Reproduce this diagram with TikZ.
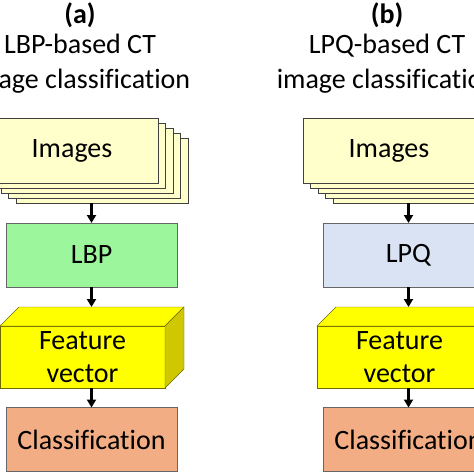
\documentclass[tikz,border=0pt]{standalone}
\usepackage{fontspec}
\setmainfont{Carlito}[Ligatures=CommonOff]
\usetikzlibrary{arrows.meta}
\definecolor{cardfill}{HTML}{FFFFCC}
\definecolor{lbpgreen}{HTML}{9CF79C}
\definecolor{lpqblue}{HTML}{DAE3F3}
\definecolor{featyellow}{HTML}{FFFF00}
\definecolor{featside}{HTML}{CFC800}
\definecolor{featline}{HTML}{6E6A00}
\definecolor{classfill}{HTML}{F2AD84}
\tikzset{
    card/.style={
        inner sep=0,
        outer sep=0,
        draw=black!75,
        fill=cardfill,
        minimum width=172pt,
        minimum height=65pt,
        font=\fontsize{28}{33}\selectfont,
    },
    stepbox/.style={
        inner sep=0,
        outer sep=0,
        draw=black!60,
        minimum width=171pt,
        minimum height=64pt,
        font=\fontsize{28}{33}\selectfont,
    },
    featbox/.style={
        inner sep=0,
        outer sep=0,
        draw=featline,
        fill=featyellow,
        minimum width=165pt,
        minimum height=62pt,
        align=center,
        font=\fontsize{28}{33}\selectfont,
    },
    heading/.style={
        align=center,
        font=\fontsize{28}{35}\selectfont,
    },
    arr/.style={
        -{Triangle[length=8pt,width=9pt]},
        line width=2.4pt,
    },
}

\begin{document}
\begin{tikzpicture}[x=1pt,y=1pt]
            \useasboundingbox (0,0) rectangle (474,-474);
            \clip (0,0) rectangle (474,-474);

            \node[heading] at (80, -15)  (labelA)  {\textbf{(a)}};
            \node[heading] at (80, -64)  (titleA)  {LBP-based CT\\image classification};
            \node[heading] at (387, -15) (labelB)  {\textbf{(b)}};
            \node[heading] at (387, -64) (titleB)  {LPQ-based CT\\image classification};

            % image stacks
            \node[card] at (102, -170.5) (imgsA4) {};
            \node[card] at (94.5, -165.5) (imgsA3) {};
            \node[card] at (87, -160.5)  (imgsA2) {};
            \node[card] at (79.5, -155.5) (imgsA1) {};
            \node[card] at (72, -150.5)  (imgsA)  {Images};

            \node[card] at (419, -170.5) (imgsB4) {};
            \node[card] at (411.5, -165.5) (imgsB3) {};
            \node[card] at (404, -160.5) (imgsB2) {};
            \node[card] at (396.5, -155.5) (imgsB1) {};
            \node[card] at (389, -150.5) (imgsB)  {Images};

            \node[stepbox, fill=lbpgreen] at (91.5, -255)  (lbpA) {LBP};
            \node[stepbox, fill=lpqblue]  at (408.5, -255) (lpqB) {LPQ};

            % feature vector blocks
            \node[featbox] at (82.5, -357)  (featA) {Feature\\vector};
            \node[featbox] at (399.5, -357) (featB) {Feature\\vector};
            \coordinate (featAback) at ([shift={(19,19)}]featA.north west);
            \coordinate (featBback) at ([shift={(19,19)}]featB.north west);
            \draw[featline, fill=featyellow] (featA.north west) -- (featAback)
                -- ([shift={(19,19)}]featA.north east) -- (featA.north east) -- cycle;
            \draw[featline, fill=featside] (featA.north east) -- ++(19,19)
                -- ([shift={(19,19)}]featA.south east) -- (featA.south east) -- cycle;
            \draw[featline, fill=featyellow] (featB.north west) -- (featBback)
                -- ([shift={(19,19)}]featB.north east) -- (featB.north east) -- cycle;
            \draw[featline, fill=featside] (featB.north east) -- ++(19,19)
                -- ([shift={(19,19)}]featB.south east) -- (featB.south east) -- cycle;

            \node[stepbox, fill=classfill] at (91.5, -439.5)  (classA) {Classification};
            \node[stepbox, fill=classfill] at (408.5, -439.5) (classB) {Classification};

            % connectors
            \draw[arr] (lbpA.north |- imgsA4.south) -- (lbpA.north);
            \draw[arr] (lbpA.south) -- (lbpA.south |- featAback);
            \draw[arr] (classA.north |- featA.south) -- (classA.north);
            \draw[arr] (lpqB.north |- imgsB4.south) -- (lpqB.north);
            \draw[arr] (lpqB.south) -- (lpqB.south |- featBback);
            \draw[arr] (classB.north |- featB.south) -- (classB.north);
        \end{tikzpicture}
\end{document}
